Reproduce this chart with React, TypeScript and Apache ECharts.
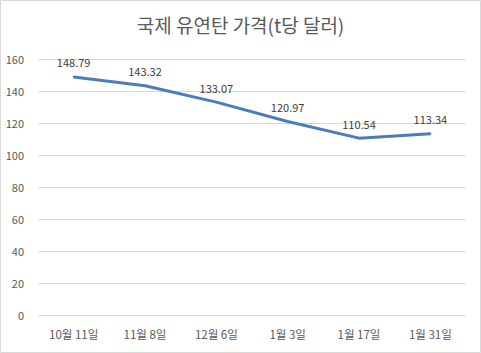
import React, { useEffect, useRef } from "react";
import * as echarts from "echarts";

const categories = ["10월 11일", "11월 8일", "12월 6일", "1월 3일", "1월 17일", "1월 31일"];
const prices = [148.79, 143.32, 133.07, 120.97, 110.54, 113.34];
const titleText = "국제 유연탄 가격(t당 달러)";

export default function App() {
  const ref = useRef<HTMLDivElement>(null);
  useEffect(() => {
    document.body.style.margin = "0";
    const chart = echarts.init(ref.current!, undefined, { renderer: "svg" });
    const font = "'Noto Sans CJK KR', 'Noto Sans', sans-serif";
    chart.setOption({
      animation: false,
      backgroundColor: "#ffffff",
      textStyle: { fontFamily: font },
      title: {
        text: titleText,
        left: "center",
        top: 10,
        textStyle: { fontFamily: font, fontSize: 19, fontWeight: "normal", color: "#595959" },
      },
      graphic: [
        {
          type: "rect",
          shape: { x: 0.5, y: 0.5, width: 480, height: 352 },
          style: { fill: "none", stroke: "#d9d9d9", lineWidth: 1 },
          silent: true,
        },
      ],
      grid: { left: 38, right: 15, top: 59, bottom: 38 },
      xAxis: {
        type: "category",
        data: categories,
        boundaryGap: true,
        axisLine: { show: false },
        axisTick: { show: false },
        axisLabel: { color: "#595959", fontSize: 11.5, fontFamily: font, margin: 13 },
      },
      yAxis: {
        type: "value",
        min: 0,
        max: 160,
        interval: 20,
        axisLine: { show: false },
        axisTick: { show: false },
        splitLine: { lineStyle: { color: "#d9d9d9", width: 1 } },
        axisLabel: { color: "#595959", fontSize: 11, fontFamily: font, margin: 14 },
      },
      series: [
        {
          type: "line",
          data: prices,
          symbol: "circle",
          symbolSize: 2,
          showSymbol: true,
          lineStyle: { color: "#4a7ebb", width: 3 },
          itemStyle: { color: "#4a7ebb" },
          label: {
            show: true,
            position: "top",
            distance: 8,
            color: "#404040",
            fontSize: 11,
            fontFamily: font,
            formatter: (p: any) => Number(p.value).toFixed(2),
          },
        },
      ],
    });
    return () => chart.dispose();
  }, []);
  return (
    <div
      ref={ref}
      style={{ position: "absolute", left: 0, top: 0, width: 481, height: 353 }}
    />
  );
}
